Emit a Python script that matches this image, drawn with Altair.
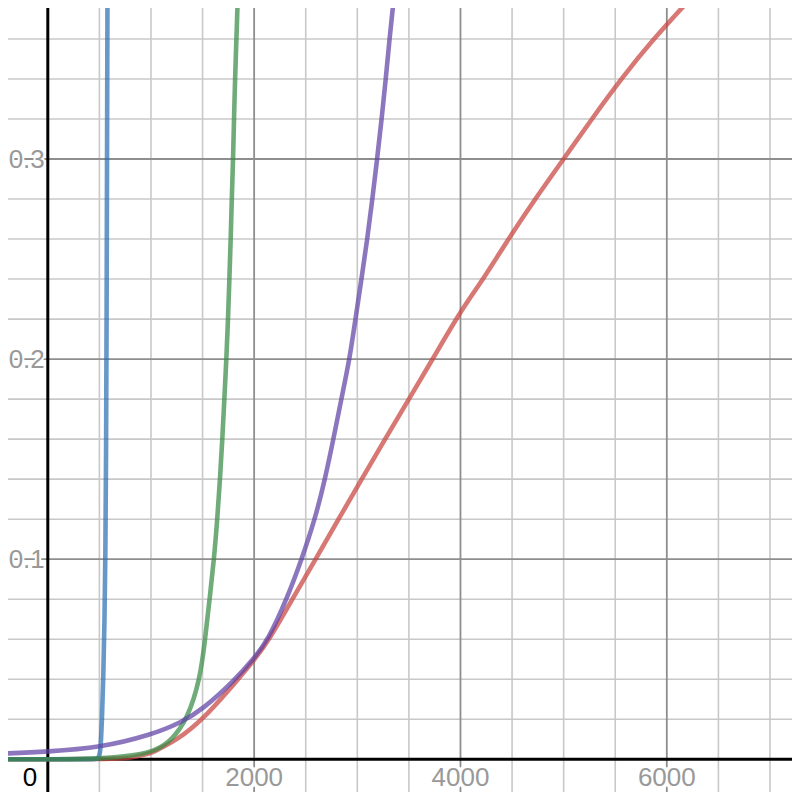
import altair as alt
import pandas as pd

# ---- data ----
red_x = [-463, 0, 500, 764, 862, 1000, 1056, 1250, 1500, 1845, 2000, 2150, 2370, 2597, 2817, 3043, 3269, 3500, 3731, 4000, 4222, 4464, 4723, 5000, 5273, 5557, 5870, 6219]
red_y = [0, 0, 0.0001, 0.0005, 0.0015, 0.003, 0.0046, 0.0096, 0.0196, 0.04, 0.0495, 0.06, 0.08, 0.10, 0.12, 0.14, 0.16, 0.18, 0.20, 0.224, 0.24, 0.26, 0.28, 0.30, 0.32, 0.34, 0.36, 0.3795]

blue_x = [-463, 0, 470, 490, 505, 513, 525, 538, 550, 558, 565, 570, 574, 578, 582]
blue_y = [0, 0, 0, 0.0005, 0.003, 0.0063, 0.02, 0.04, 0.07, 0.10, 0.15, 0.22, 0.30, 0.3795, 0.42]

green_x = [-463, 0, 500, 862, 1056, 1201, 1353, 1476, 1525, 1568, 1611, 1643, 1669, 1692, 1711, 1731, 1747, 1760, 1773, 1783, 1796, 1805, 1815, 1828, 1841, 1852]
green_y = [0, 0, 0.0002, 0.002, 0.0046, 0.0096, 0.02, 0.04, 0.06, 0.08, 0.10, 0.12, 0.14, 0.16, 0.18, 0.20, 0.22, 0.24, 0.26, 0.28, 0.30, 0.32, 0.34, 0.36, 0.3795, 0.40]

purple_x = [-463, 0, 505, 1000, 1298, 1500, 1798, 2000, 2138, 2316, 2461, 2590, 2687, 2768, 2845, 2925, 2982, 3040, 3097, 3146, 3192, 3236, 3276, 3312, 3352, 3385]
purple_y = [0.0028, 0.0038, 0.0058, 0.0121, 0.0185, 0.025, 0.0388, 0.0505, 0.06, 0.08, 0.10, 0.12, 0.14, 0.16, 0.18, 0.20, 0.22, 0.24, 0.26, 0.28, 0.30, 0.32, 0.34, 0.36, 0.3795, 0.395]

x_minor = [500, 1000, 1500, 2500, 3000, 3500, 4500, 5000, 5500, 6500, 7000]
x_major = [2000, 4000, 6000]
y_minor = [0.02, 0.04, 0.06, 0.08, 0.12, 0.14, 0.16, 0.18, 0.22, 0.24, 0.26, 0.28, 0.32, 0.34, 0.36]
y_major = [0.1, 0.2, 0.3]
x_labels = ["2000", "4000", "6000"]
y_labels = ["0.1", "0.2", "0.3"]

XDOM = [-385.8, 7213.4]
YDOM = [-0.01634, 0.37546]

xs = alt.Scale(domain=XDOM, nice=False, zero=False)
ys = alt.Scale(domain=YDOM, nice=False, zero=False)

FONT = "Liberation Sans"
FS = 26

layers = []

# grid
layers.append(alt.Chart(pd.DataFrame({"v": x_minor})).mark_rule(color="#c8c8c8", strokeWidth=1.6)
              .encode(x=alt.X("v:Q", scale=xs, axis=None)))
layers.append(alt.Chart(pd.DataFrame({"v": y_minor})).mark_rule(color="#c8c8c8", strokeWidth=1.6)
              .encode(y=alt.Y("v:Q", scale=ys, axis=None)))
layers.append(alt.Chart(pd.DataFrame({"v": x_major})).mark_rule(color="#8e8e8e", strokeWidth=1.8)
              .encode(x=alt.X("v:Q", scale=xs, axis=None)))
layers.append(alt.Chart(pd.DataFrame({"v": y_major})).mark_rule(color="#8e8e8e", strokeWidth=1.8)
              .encode(y=alt.Y("v:Q", scale=ys, axis=None)))

# axes
layers.append(alt.Chart(pd.DataFrame({"v": [0]})).mark_rule(color="#000000", strokeWidth=3)
              .encode(x=alt.X("v:Q", scale=xs, axis=None)))
layers.append(alt.Chart(pd.DataFrame({"v": [0]})).mark_rule(color="#000000", strokeWidth=3)
              .encode(y=alt.Y("v:Q", scale=ys, axis=None)))

# tick labels
xl = pd.DataFrame({"v": x_major, "t": x_labels, "z": [0] * len(x_major)})
yl = pd.DataFrame({"v": y_major, "t": y_labels, "z": [0] * len(y_major)})
for halo in (True, False):
    kw = dict(font=FONT, fontSize=FS, align="center", baseline="alphabetic", dy=27)
    if halo:
        kw.update(stroke="white", strokeWidth=7, fill="white", strokeJoin="round")
    else:
        kw.update(color="#999999")
    layers.append(alt.Chart(xl).mark_text(**kw).encode(
        x=alt.X("v:Q", scale=xs, axis=None), y=alt.Y("z:Q", scale=ys, axis=None), text="t:N"))
    kw = dict(font=FONT, fontSize=FS, align="right", baseline="middle", dx=-3, dy=1)
    if halo:
        kw.update(stroke="white", strokeWidth=4, fill="white", strokeJoin="round")
    else:
        kw.update(color="#999999")
    layers.append(alt.Chart(yl).mark_text(**kw).encode(
        x=alt.X("z:Q", scale=xs, axis=None), y=alt.Y("v:Q", scale=ys, axis=None), text="t:N"))

layers.append(alt.Chart(pd.DataFrame({"v": [0], "t": ["0"]})).mark_text(
    font=FONT, fontSize=FS, align="right", baseline="alphabetic", dx=-10.5, dy=27, color="#000000")
    .encode(x=alt.X("v:Q", scale=xs, axis=None), y=alt.Y("v:Q", scale=ys, axis=None), text="t:N"))

# curves
series = [
    (red_x, red_y, "#c74440"),
    (blue_x, blue_y, "#2d70b3"),
    (green_x, green_y, "#388c46"),
    (purple_x, purple_y, "#6042a6"),
]
for sx, sy, col in series:
    df = pd.DataFrame({"x": sx, "y": sy})
    layers.append(alt.Chart(df).mark_line(color=col, strokeWidth=4.6, opacity=0.72,
                                          interpolate="basis", clip=True, strokeCap="round")
                  .encode(x=alt.X("x:Q", scale=xs, axis=None),
                          y=alt.Y("y:Q", scale=ys, axis=None)))

chart = alt.layer(*layers).properties(
    width=784, height=784,
    autosize=alt.AutoSizeParams(type="none"),
    padding=0,
    background="white",
).configure_view(stroke=None)

chart.save("out.html", embed_options={"renderer": "svg", "actions": False})
